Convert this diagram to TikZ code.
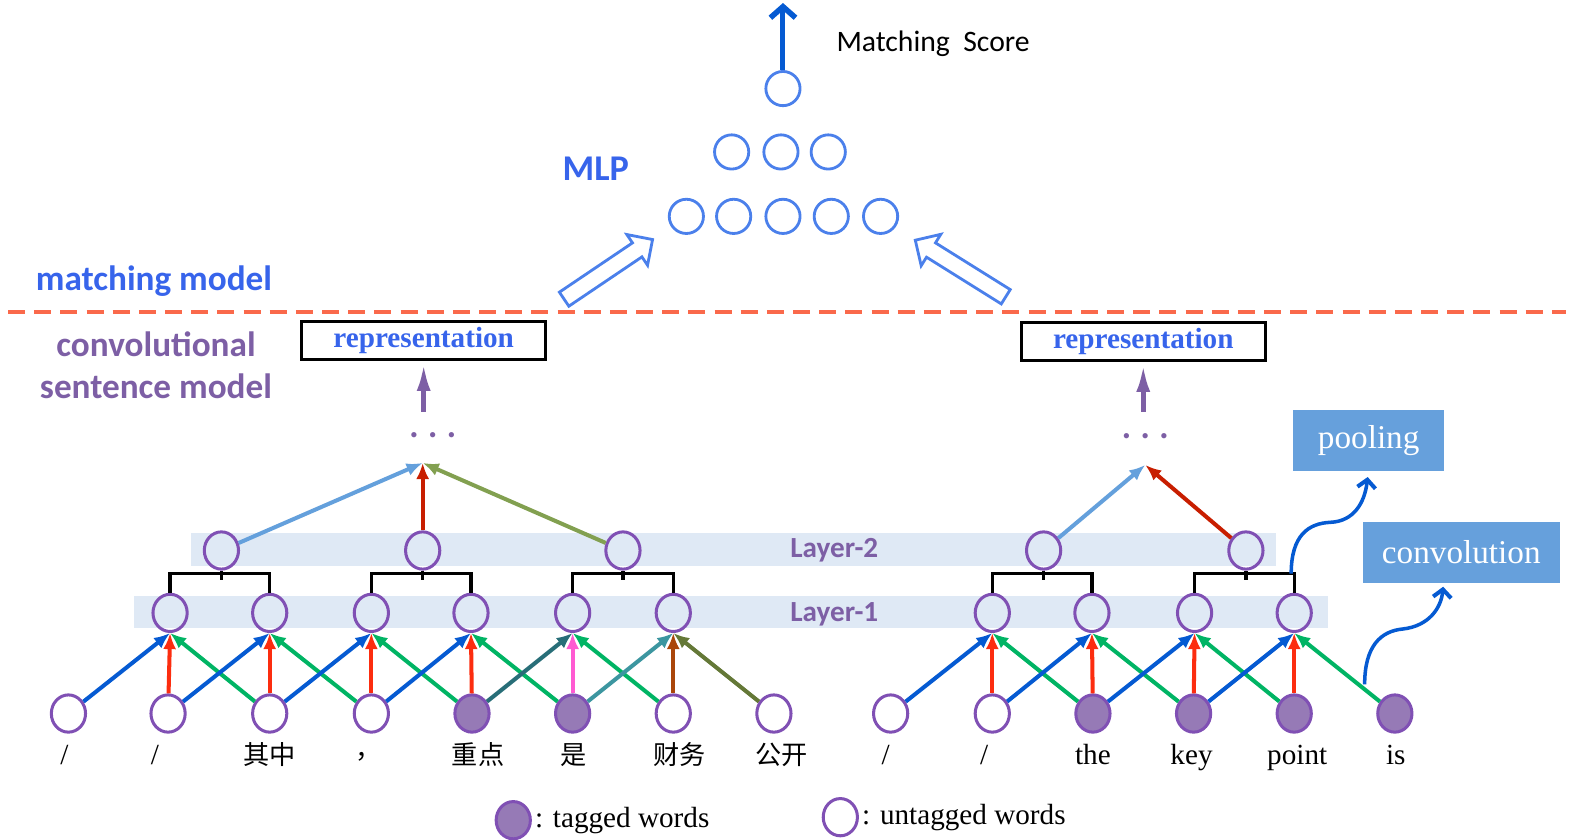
\documentclass[tikz,border=0pt]{standalone}
\usepackage{fontspec}
\setmainfont{Liberation Serif}
\newfontfamily\carlito{Carlito}
\newfontfamily\cjk{Noto Sans CJK SC}
\usetikzlibrary{shapes.geometric, shapes.arrows, arrows.meta, positioning}

\definecolor{mlpblue}{RGB}{75,128,235}
\definecolor{headblue}{RGB}{55,100,235}
\definecolor{textpurple}{RGB}{125,95,165}
\definecolor{nodepurple}{RGB}{128,80,180}
\definecolor{tagfill}{RGB}{150,122,182}
\definecolor{bandblue}{RGB}{223,233,245}
\definecolor{dashred}{RGB}{250,105,75}
\definecolor{boxblue}{RGB}{102,160,220}
\definecolor{cblue}{RGB}{5,90,210}
\definecolor{cred}{RGB}{252,45,15}
\definecolor{cgreen}{RGB}{0,180,100}
\definecolor{cteal}{RGB}{40,110,120}
\definecolor{cpink}{RGB}{255,90,210}
\definecolor{cteallight}{RGB}{60,150,160}
\definecolor{cbrown}{RGB}{170,70,10}
\definecolor{colive}{RGB}{100,120,55}
\definecolor{lblue}{RGB}{100,160,220}
\definecolor{dred}{RGB}{200,30,0}
\definecolor{lolive}{RGB}{130,160,80}

\begin{document}
\begin{tikzpicture}[
    x=1pt, y=-1pt,
    mlp/.style={circle, draw=mlpblue, line width=2.8pt, minimum size=34pt, inner sep=0},
    word/.style={ellipse, draw=nodepurple, line width=3pt, minimum width=34pt, minimum height=37pt, inner sep=0},
    tagged/.style={word, fill=tagfill},
    band/.style={fill=bandblue, minimum height=32pt, inner sep=0},
    conv/.style={line width=4pt, -{Latex[length=16pt, width=13pt]}},
    uparrow/.style={line width=4.5pt, textpurple, -{Latex[length=27pt, width=14pt]}},
    tree/.style={draw=black, line width=3.3pt},
    curvy/.style={cblue, line width=3.5pt, -{Straight Barb[length=8pt, width=18pt, line width=4pt]}},
    hollow/.style={single arrow, draw=mlpblue, line width=2.8pt, fill=white, minimum height=106pt, inner sep=7pt, single arrow head extend=10pt},
    repbox/.style={draw=black, line width=3pt, minimum width=242pt, minimum height=38pt, inner sep=0, text=headblue, font=\fontsize{29}{32}\selectfont\bfseries},
    opbox/.style={fill=boxblue, text=white, inner sep=0, font=\fontsize{33}{38}\selectfont},
    txt/.style={inner sep=0, font=\fontsize{29}{34}\selectfont},
    cjktxt/.style={inner sep=0, font=\fontsize{26}{30}\selectfont\cjk},
    title/.style={inner sep=0, font=\fontsize{35}{40}\selectfont\carlito\bfseries},
    layer/.style={inner sep=0, text=textpurple, font=\fontsize{29}{32}\selectfont\carlito\bfseries},
    dots/.style={inner sep=0, text=textpurple, font=\fontsize{22}{22}\selectfont}
]
\useasboundingbox (0,0) rectangle (1568,834);

% Bands behind the two convolution layers
\node[band, minimum width=1078pt] (band2) at (729,546) {};
\node[band, minimum width=1187pt] (band1) at (726.5,608.5) {};
\node[layer] (lab2) at (829,547) {Layer-2};
\node[layer] (lab1) at (829,610) {Layer-1};

% Separation between the two models
\draw[dashred, line width=4.5pt, dash pattern=on 17pt off 9pt] (8,310) -- (1556,310);
\node[title, text=headblue] (mm) at (153,279) {matching model};
\node[title, text=textpurple, align=center, font=\fontsize{35}{41}\selectfont\carlito\bfseries] (csm) at (155,363) {convolutional\\sentence model};

% MLP
\node[mlp] (M1_1) at (682,215) {};
\node[mlp] (M1_2) at (729,215) {};
\node[mlp] (M1_3) at (778,215) {};
\node[mlp] (M1_4) at (826,215) {};
\node[mlp] (M1_5) at (875,215) {};
\node[mlp] (M2_1) at (727,151) {};
\node[mlp] (M2_2) at (776,151) {};
\node[mlp] (M2_3) at (823,151) {};
\node[mlp] (M3_1) at (778,88) {};
\node[title, text=headblue, font=\fontsize{36}{40}\selectfont\carlito\bfseries] (mlplab) at (592,168) {MLP};
\coordinate (MS) at (778,3);
\path (M3_1) edge[cblue, line width=5pt, -{Straight Barb[length=11pt, width=25pt, line width=5.5pt]}] (MS);
\node[txt, anchor=west, font=\fontsize{29.5}{34}\selectfont\carlito] (score) at (831,43) {Matching\ \ Score};

% Hollow arrows into the MLP
\node[hollow, rotate=34] (HA_1) at (601,270) {};
\node[hollow, rotate=148] (HA_2) at (958,269) {};

% Representations
\node[repbox] (RX) at (421,338) {representation};
\node[repbox] (RY) at (1136,339) {representation};
\node[dots] (DX) at (430,435) {\textbullet\hspace{11pt}\textbullet\hspace{11pt}\textbullet};
\node[dots] (DY) at (1138,436) {\textbullet\hspace{11pt}\textbullet\hspace{11pt}\textbullet};
\coordinate (AX) at (421,409);
\coordinate (AY) at (1136,409);
\path (AX) edge[uparrow, shorten >=3pt] (RX.south);
\path (AY) edge[uparrow, shorten >=3pt] (RY.south);

% Words of the first sentence
\node[word] (X_1) at (68,709) {};
\node[word] (X_2) at (167,709) {};
\node[word] (X_3) at (268,709) {};
\node[word] (X_4) at (369,709) {};
\node[tagged] (X_5) at (469,709) {};
\node[tagged] (X_6) at (569,709) {};
\node[word] (X_7) at (669,709) {};
\node[word] (X_8) at (769,709) {};
\node[txt] (tX_1) at (64,750) {/};
\node[txt] (tX_2) at (154,750) {/};
\node[cjktxt] (tX_3) at (268,750) {其中};
\node[cjktxt] (tX_4) at (366,752) {，};
\node[cjktxt] (tX_5) at (475,750) {重点};
\node[cjktxt] (tX_6) at (570,750) {是};
\node[cjktxt] (tX_7) at (675,750) {财务};
\node[cjktxt] (tX_8) at (777,750) {公开};

% Words of the second sentence
\node[word] (Y_1) at (885,709) {};
\node[word] (Y_2) at (986,709) {};
\node[tagged] (Y_3) at (1086,709) {};
\node[tagged] (Y_4) at (1186,709) {};
\node[tagged] (Y_5) at (1286,709) {};
\node[tagged] (Y_6) at (1386,709) {};
\node[txt] (tY_1) at (880,750) {/};
\node[txt] (tY_2) at (978,750) {/};
\node[txt] (tY_3) at (1086,750) {the};
\node[txt] (tY_4) at (1184,753) {key};
\node[txt] (tY_5) at (1289,753) {point};
\node[txt] (tY_6) at (1387,750) {is};

% Layer-1 nodes
\node[word] (CX_1) at (169,609) {};
\node[word] (CX_2) at (268,609) {};
\node[word] (CX_3) at (369,609) {};
\node[word] (CX_4) at (468,609) {};
\node[word] (CX_5) at (569,609) {};
\node[word] (CX_6) at (669,609) {};
\node[word] (CY_1) at (986,609) {};
\node[word] (CY_2) at (1085,609) {};
\node[word] (CY_3) at (1187,609) {};
\node[word] (CY_4) at (1286,609) {};

% Layer-2 nodes
\node[word] (PX_1) at (220,547) {};
\node[word] (PX_2) at (420,547) {};
\node[word] (PX_3) at (619,547) {};
\node[word] (PY_1) at (1037,547) {};
\node[word] (PY_2) at (1238,547) {};
\coordinate (TX) at (420,460);
\coordinate (TY) at (1138,462);

% Convolution edges, first sentence
\path (X_1) edge[conv, cblue] (CX_1.south);
\path (X_2) edge[conv, cred] (CX_1.south);
\path (X_3) edge[conv, cgreen] (CX_1.south);
\path (X_2) edge[conv, cblue] (CX_2.south);
\path (X_3) edge[conv, cred] (CX_2.south);
\path (X_4) edge[conv, cgreen] (CX_2.south);
\path (X_3) edge[conv, cblue] (CX_3.south);
\path (X_4) edge[conv, cred] (CX_3.south);
\path (X_5) edge[conv, cgreen] (CX_3.south);
\path (X_4) edge[conv, cblue] (CX_4.south);
\path (X_5) edge[conv, cred] (CX_4.south);
\path (X_6) edge[conv, cgreen] (CX_4.south);
\path (X_5) edge[conv, cteal] (CX_5.south);
\path (X_6) edge[conv, cpink] (CX_5.south);
\path (X_7) edge[conv, cgreen] (CX_5.south);
\path (X_6) edge[conv, cteallight] (CX_6.south);
\path (X_7) edge[conv, cbrown] (CX_6.south);
\path (X_8) edge[conv, colive] (CX_6.south);

% Convolution edges, second sentence
\path (Y_1) edge[conv, cblue] (CY_1.south);
\path (Y_2) edge[conv, cred] (CY_1.south);
\path (Y_3) edge[conv, cgreen] (CY_1.south);
\path (Y_2) edge[conv, cblue] (CY_2.south);
\path (Y_3) edge[conv, cred] (CY_2.south);
\path (Y_4) edge[conv, cgreen] (CY_2.south);
\path (Y_3) edge[conv, cblue] (CY_3.south);
\path (Y_4) edge[conv, cred] (CY_3.south);
\path (Y_5) edge[conv, cgreen] (CY_3.south);
\path (Y_4) edge[conv, cblue] (CY_4.south);
\path (Y_5) edge[conv, cred] (CY_4.south);
\path (Y_6) edge[conv, cgreen] (CY_4.south);

% Pooling brackets
\draw[tree] (CX_1.north) -- ++(0,-19) -| (CX_2.north);
\draw[tree] (PX_1.south) -- ++(0,9);
\draw[tree] (CX_3.north) -- ++(0,-19) -| (CX_4.north);
\draw[tree] (PX_2.south) -- ++(0,9);
\draw[tree] (CX_5.north) -- ++(0,-19) -| (CX_6.north);
\draw[tree] (PX_3.south) -- ++(0,9);
\draw[tree] (CY_1.north) -- ++(0,-19) -| (CY_2.north);
\draw[tree] (PY_1.south) -- ++(0,9);
\draw[tree] (CY_3.north) -- ++(0,-19) -| (CY_4.north);
\draw[tree] (PY_2.south) -- ++(0,9);

% Layer-2 to next level
\path (PX_1) edge[conv, lblue] (TX);
\path (PX_2) edge[conv, dred] (TX);
\path (PX_3) edge[conv, lolive] (TX);
\path (PY_1) edge[conv, lblue] (TY);
\path (PY_2) edge[conv, dred] (TY);

% Operation boxes
\node[opbox, minimum width=150pt, minimum height=61pt] (pool) at (1360,437.5) {pooling};
\node[opbox, minimum width=196pt, minimum height=60pt] (convb) at (1452,549) {convolution};
\coordinate (KP) at (1283,570);
\coordinate (KQ) at (1359,474);
\coordinate (KC) at (1356,680);
\coordinate (KT) at (1434,583);
\draw[curvy] (KP) .. controls (1283,532) and (1300,520) .. (1322,519) .. controls (1345,518) and (1356,500) .. (KQ);
\draw[curvy] (KC) .. controls (1356,642) and (1372,627) .. (1394,625) .. controls (1420,622) and (1432,604) .. (KT);

% Legend
\node[tagged] (LG_1) at (510,815) {};
\node[txt, right=3pt of LG_1] (LT_1) {: tagged words};
\node[word] (LG_2) at (835,812) {};
\node[txt, right=3pt of LG_2] (LT_2) {: untagged words};

\end{tikzpicture}
\end{document}
